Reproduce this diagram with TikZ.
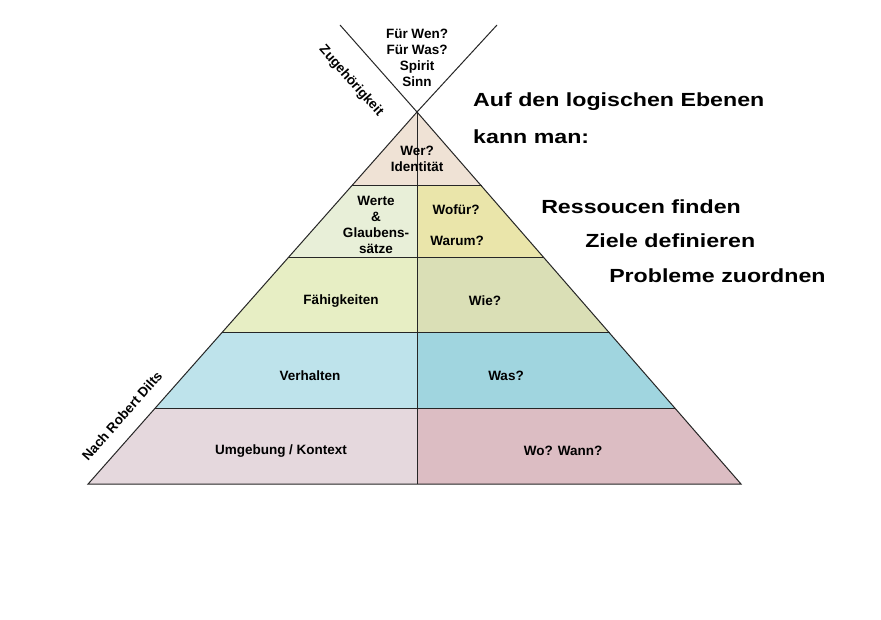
\documentclass[tikz,border=0pt]{standalone}
\usepackage{fontspec}
\setmainfont{Liberation Sans}
\begin{document}
\begin{tikzpicture}[x=1pt,y=-1pt,
  lab/.style={font=\fontsize{13.5}{16}\selectfont\bfseries,align=center,inner sep=0},
  big/.style={font=\fontsize{19}{21}\selectfont\bfseries,anchor=west,inner sep=0,xscale=1.22},
  edge/.style={line width=1pt,black!85}]
\useasboundingbox (0,0) rectangle (881,620);
\fill[white] (0,0) rectangle (881,620);
% fills
\fill[fill={rgb,255:red,239;green,226;blue,213}] (417,112) -- (351.6,186) -- (481.5,186) -- cycle;
\fill[fill={rgb,255:red,232;green,239;blue,216}] (351.6,186) -- (287.9,258) -- (417,258) -- (417,186) -- cycle;
\fill[fill={rgb,255:red,234;green,229;blue,170}] (417,186) -- (417,258) -- (544.2,258) -- (481.5,186) -- cycle;
\fill[fill={rgb,255:red,231;green,238;blue,196}] (287.9,258) -- (221.6,333) -- (417,333) -- (417,258) -- cycle;
\fill[fill={rgb,255:red,218;green,223;blue,182}] (417,258) -- (417,333) -- (609.5,333) -- (544.2,258) -- cycle;
\fill[fill={rgb,255:red,190;green,227;blue,235}] (221.6,333) -- (155.3,408) -- (417,408) -- (417,333) -- cycle;
\fill[fill={rgb,255:red,160;green,213;blue,223}] (417,333) -- (417,408) -- (674.8,408) -- (609.5,333) -- cycle;
\fill[fill={rgb,255:red,229;green,216;blue,221}] (155.3,408) -- (88.1,484) -- (417,484) -- (417,408) -- cycle;
\fill[fill={rgb,255:red,220;green,189;blue,195}] (417,408) -- (417,484) -- (741,484) -- (674.8,408) -- cycle;
% lines
\coordinate (tl) at (340,25); \coordinate (tr) at (497,25);
\coordinate (apex) at (417,112);
\coordinate (bl) at (88.1,484); \coordinate (br) at (741,484);
\draw[edge] (tl) -- (apex) -- (br) -- (bl) -- (apex) -- (tr);
\draw[edge] (apex) -- (417,484);
\draw[edge] (351.6,186) -- (481.5,186);
\draw[edge] (287.9,258) -- (544.2,258);
\draw[edge] (221.6,333) -- (609.5,333);
\draw[edge] (155.3,408) -- (674.8,408);
% labels
\node[lab] (top) at (417,58) {Für Wen?\\Für Was?\\Spirit\\Sinn};
\node[lab,rotate=-48.5] (zug) at (351,81) {Zugehörigkeit};
\node[lab,rotate=48.5] (dilts) at (122,416) {Nach Robert Dilts};
\node[lab] (wer) at (417,159) {Wer?\\Identität};
\node[lab] (werte) at (376,225) {Werte\\\&\\Glaubens-\\sätze};
\node[lab] (wofuer) at (456,210) {Wofür?};
\node[lab] (warum) at (457,241) {Warum?};
\node[lab] (faeh) at (341,301) {Fähigkeiten};
\node[lab] (wie) at (485,301) {Wie?};
\node[lab] (verh) at (310,376) {Verhalten};
\node[lab] (was) at (506,376) {Was?};
\node[lab] (umg) at (281,451) {Umgebung / Kontext};
\node[lab] (wo) at (563,451) {Wo? Wann?};
\node[big] (t1) at (473,102) {Auf den logischen Ebenen};
\node[big] (t2) at (473,137) {kann man:};
\node[big] (t3) at (541,207) {Ressoucen finden};
\node[big] (t4) at (585,241) {Ziele definieren};
\node[big] (t5) at (609,276) {Probleme zuordnen};
\end{tikzpicture}
\end{document}
